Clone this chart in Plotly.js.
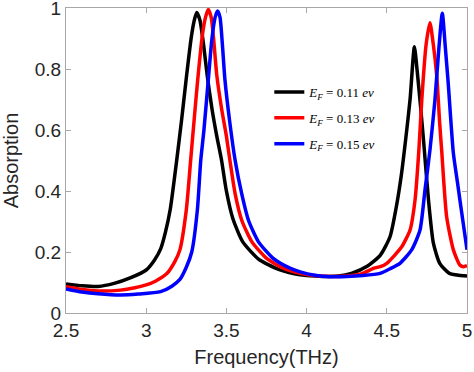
<!DOCTYPE html>
<html>
<head>
<meta charset="utf-8">
<script src="https://cdn.plot.ly/plotly-3.0.1.min.js"></script>
<style>html,body{margin:0;padding:0;background:#fff;}#chart{width:474px;height:372px;}</style>
</head>
<body>
<div id="chart"></div>
<script>
// Series names
const seriesNames = [
  '<i>E</i><sub><i>F</i></sub> = 0.11 <i>ev</i>',
  '<i>E</i><sub><i>F</i></sub> = 0.13 <i>ev</i>',
  '<i>E</i><sub><i>F</i></sub> = 0.15 <i>ev</i>'
];

// E_F = 0.11 eV (black)
const freq011 = [2.5, 2.6, 2.7, 2.8, 2.9, 3.0, 3.05, 3.09, 3.12, 3.15, 3.19, 3.22, 3.25, 3.28, 3.3, 3.315, 3.335, 3.36, 3.38, 3.41, 3.44, 3.47, 3.5, 3.54, 3.6, 3.7, 3.83, 3.96, 4.1, 4.2, 4.28, 4.38, 4.46, 4.52, 4.56, 4.59, 4.62, 4.645, 4.672, 4.69, 4.71, 4.73, 4.76, 4.79, 4.83, 4.89, 5.0];
const abs011  = [0.095, 0.089, 0.087, 0.097, 0.115, 0.141, 0.172, 0.21, 0.265, 0.34, 0.5, 0.63, 0.77, 0.9, 0.96, 0.985, 0.96, 0.87, 0.78, 0.67, 0.58, 0.5, 0.4, 0.31, 0.235, 0.177, 0.142, 0.125, 0.12, 0.121, 0.13, 0.154, 0.19, 0.25, 0.35, 0.45, 0.58, 0.7, 0.873, 0.79, 0.68, 0.56, 0.37, 0.23, 0.163, 0.13, 0.121];

// E_F = 0.13 eV (red)
const freq013 = [2.5, 2.6, 2.7, 2.84, 2.93, 3.0, 3.06, 3.13, 3.18, 3.21, 3.25, 3.277, 3.3, 3.321, 3.35, 3.37, 3.387, 3.405, 3.42, 3.44, 3.47, 3.5, 3.522, 3.554, 3.595, 3.658, 3.751, 3.855, 3.96, 4.08, 4.2, 4.34, 4.42, 4.46, 4.5, 4.55, 4.593, 4.645, 4.676, 4.7, 4.718, 4.745, 4.769, 4.79, 4.811, 4.83, 4.842, 4.873, 4.915, 4.956, 4.98, 5.0];
const abs013  = [0.086, 0.077, 0.072, 0.075, 0.083, 0.092, 0.105, 0.13, 0.17, 0.207, 0.338, 0.5, 0.64, 0.764, 0.91, 0.97, 0.995, 0.97, 0.9, 0.78, 0.67, 0.58, 0.5, 0.392, 0.305, 0.234, 0.179, 0.147, 0.13, 0.121, 0.12, 0.128, 0.147, 0.152, 0.163, 0.19, 0.217, 0.272, 0.37, 0.534, 0.698, 0.88, 0.952, 0.88, 0.78, 0.62, 0.534, 0.316, 0.207, 0.157, 0.152, 0.155];

// E_F = 0.15 eV (blue)
const freq015 = [2.5, 2.6, 2.7, 2.84, 2.95, 3.09, 3.16, 3.21, 3.25, 3.284, 3.319, 3.34, 3.36, 3.387, 3.41, 3.43, 3.445, 3.46, 3.475, 3.491, 3.52, 3.554, 3.595, 3.637, 3.699, 3.792, 3.896, 3.96, 4.05, 4.146, 4.25, 4.35, 4.458, 4.52, 4.582, 4.655, 4.707, 4.738, 4.769, 4.8, 4.825, 4.846, 4.865, 4.883, 4.915, 4.94, 4.956, 5.0];
const abs015  = [0.079, 0.069, 0.063, 0.059, 0.062, 0.07, 0.088, 0.11, 0.15, 0.2, 0.338, 0.5, 0.6, 0.764, 0.9, 0.97, 0.99, 0.97, 0.88, 0.764, 0.63, 0.502, 0.392, 0.305, 0.234, 0.179, 0.147, 0.135, 0.124, 0.119, 0.12, 0.123, 0.13, 0.145, 0.163, 0.207, 0.272, 0.403, 0.534, 0.698, 0.87, 0.983, 0.87, 0.753, 0.524, 0.43, 0.37, 0.207];

const xTickVals = [2.5, 3, 3.5, 4, 4.5, 5];
const xTickText = ['2.5', '3', '3.5', '4', '4.5', '5'];
const yTickVals = [0, 0.2, 0.4, 0.6, 0.8, 1];
const yTickText = ['0', '0.2', '0.4', '0.6', '0.8', '1'];

const xs = [freq011, freq013, freq015];
const ys = [abs011, abs013, abs015];
const colors = ['#000000', '#ff0000', '#0000ff'];

const traces = xs.map((x, i) => ({
  x: x, y: ys[i], type: 'scatter', mode: 'lines',
  name: seriesNames[i], legendgroup: 'g' + i,
  line: {color: colors[i], width: 3.5, shape: 'spline', smoothing: 0.6}
}));

const axisCommon = {
  showline: true, mirror: 'ticks', linecolor: '#a8a8a8', linewidth: 1,
  ticks: 'inside', ticklen: 5, tickcolor: '#a8a8a8', tickwidth: 1,
  showgrid: false, zeroline: false, ticklabeloverflow: 'allow',
  tickfont: {family: 'Liberation Sans, Arial, sans-serif', size: 19, color: '#262626'}
};

const layout = {
  width: 474, height: 372,
  margin: {l: 66, r: 7, t: 8, b: 59},
  paper_bgcolor: '#ffffff', plot_bgcolor: '#ffffff',
  showlegend: true,
  legend: {
    x: 0.507, y: 0.774, xanchor: 'left', yanchor: 'top',
    bgcolor: 'rgba(0,0,0,0)', borderwidth: 0,
    tracegroupgap: 6, traceorder: 'grouped',
    font: {family: 'Liberation Serif, Times New Roman, serif', size: 13, color: '#000000'}
  },
  xaxis: Object.assign({}, axisCommon, {
    range: [2.5, 5], tickvals: xTickVals, ticktext: xTickText,
    title: {text: 'Frequency(THz)', standoff: 10,
      font: {family: 'Liberation Sans, Arial, sans-serif', size: 20, color: '#262626'}}
  }),
  yaxis: Object.assign({}, axisCommon, {
    range: [0, 1], tickvals: yTickVals, ticktext: yTickText,
    title: {text: 'Absorption', standoff: 10,
      font: {family: 'Liberation Sans, Arial, sans-serif', size: 20, color: '#262626'}}
  })
};

Plotly.newPlot('chart', traces, layout, {displayModeBar: false, staticPlot: true});
</script>
</body>
</html>
